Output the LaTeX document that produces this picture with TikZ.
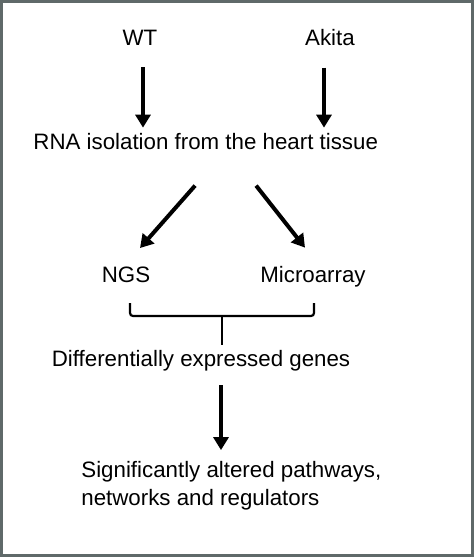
\documentclass[tikz,border=0pt]{standalone}
\usepackage{fontspec}
\setmainfont{Liberation Sans}
\usetikzlibrary{arrows.meta}
\definecolor{framegray}{RGB}{95,105,105}
\begin{document}
\begin{tikzpicture}[x=0.5pt,y=-0.5pt,
        lbl/.style={inner sep=0pt,font=\fontsize{11.15}{14}\selectfont},
        bigarrow/.style={line width=2pt,-{Triangle[width=7.5pt,length=6.5pt]}},
        bracket/.style={line width=1.1pt,rounded corners=1.5pt}]
        \useasboundingbox (0,0) rectangle (474,557);
        \draw[framegray,line width=1.6pt] (1.6,1.6) rectangle (472.4,555.4);
        \node[lbl,anchor=base](wt)at(140,46){WT};
        \node[lbl,anchor=base](akita)at(330,46){Akita};
        \node[lbl,anchor=base west](rna)at(33,149){RNA isolation from the heart tissue};
        \node[lbl,anchor=base](ngs)at(126,282){NGS};
        \node[lbl,anchor=base](micro)at(313,282){Microarray};
        \node[lbl,anchor=base](deg)at(201,366){Differentially expressed genes};
        \node[lbl,anchor=north west,align=left](sig)at(81,460.7){Significantly altered pathways,\\networks and regulators};
        \draw[bigarrow]([xshift=1.5pt,yshift=-10.5pt]wt.south)--([xshift=1.5pt,yshift=2.4pt]wt.south |- rna.north);
        \draw[bigarrow]([xshift=-3pt,yshift=-10.5pt]akita.south)--([xshift=-3pt,yshift=2.4pt]akita.south |- rna.north);
        \draw[bigarrow]([xshift=-5.3pt,yshift=-18pt]rna.south)--([xshift=7pt,yshift=9pt]ngs.north);
        \draw[bigarrow]([xshift=25.2pt,yshift=-18pt]rna.south)--([xshift=-4pt,yshift=8.9pt]micro.north);
        % bracket joining both platforms
        \coordinate(bl)at(130,303);
        \coordinate(br)at(314,303);
        \coordinate(bm)at(222,316);
        \draw[bracket](bl)|-(bm)-|(br);
        \draw[bracket](bm)--([yshift=2.4pt]bm |- deg.north);
        \draw[bigarrow]([xshift=-0.5pt,yshift=-7.2pt]bm |- deg.south)--([xshift=-0.5pt,yshift=5.3pt]bm |- sig.north);
    \end{tikzpicture}
\end{document}
